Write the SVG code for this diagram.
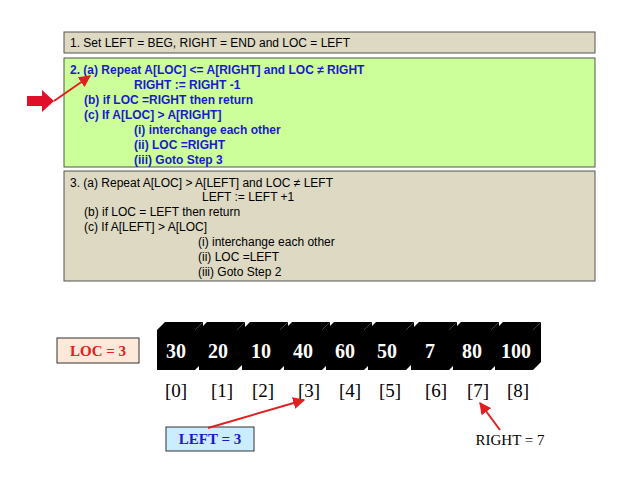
<svg xmlns="http://www.w3.org/2000/svg" width="638" height="478" viewBox="0 0 638 478">
<style>
.box{fill:#ddd9c3;stroke:#555;stroke-width:1}
.t{font-family:"Liberation Sans",Arial,sans-serif;font-size:12px;fill:#000}
.b{font-family:"Liberation Sans",Arial,sans-serif;font-size:12px;fill:#1a1acc;font-weight:bold}
.num{font-family:"Liberation Serif",serif;font-size:20px;font-weight:bold;fill:#fff;text-anchor:middle}
.idx{font-family:"Liberation Serif",serif;font-size:19px;fill:#000;text-anchor:middle}
.bl .f{fill:#1010b0}.bl .tp{fill:#2a2ae0}.bl .sd{fill:#0a0a80}
.rd .f{fill:#5a0a28}.rd .tp{fill:#7a1a3a}.rd .sd{fill:#3a0518}
</style>
<defs>
<marker id="ah" viewBox="0 0 10 10" refX="9" refY="5" markerWidth="6" markerHeight="6" orient="auto"><path d="M0,0L10,5L0,10z" fill="#e02020"/></marker>
<g id="cube"><polygon class="tp" points="0,8 8,0 46,0 38,8"/><polygon class="sd" points="38,8 46,0 46,40 38,48"/><rect class="f" x="0" y="8" width="38" height="40"/></g>
</defs>
<g id="step1"><rect class="box" x="64" y="32" width="531" height="21"/><text class="t" x="70" y="47">1. Set LEFT = BEG, RIGHT = END and LOC = LEFT</text></g>
<g id="step2"><rect x="64" y="58" width="531" height="109" fill="#ccff99" stroke="#555"/>
<text class="b" x="70" y="74">2. (a) Repeat A[LOC] &lt;= A[RIGHT] and LOC ≠ RIGHT</text>
<text class="b" x="134" y="89">RIGHT := RIGHT -1</text>
<text class="b" x="84" y="104">(b) if LOC =RIGHT then return</text>
<text class="b" x="84" y="119">(c) If A[LOC] &gt; A[RIGHT]</text>
<text class="b" x="134" y="134">(i) interchange each other</text>
<text class="b" x="134" y="149">(ii) LOC =RIGHT</text>
<text class="b" x="134" y="164">(iii) Goto Step 3</text></g>
<g id="step3"><rect class="box" x="64" y="171" width="531" height="110"/>
<text class="t" x="70" y="187">3. (a) Repeat A[LOC] &gt; A[LEFT] and LOC ≠ LEFT</text>
<text class="t" x="202" y="201">LEFT := LEFT +1</text>
<text class="t" x="84" y="216">(b) if LOC = LEFT then return</text>
<text class="t" x="84" y="231">(c) If A[LEFT] &gt; A[LOC]</text>
<text class="t" x="198" y="246">(i) interchange each other</text>
<text class="t" x="198" y="261">(ii) LOC =LEFT</text>
<text class="t" x="198" y="276">(iii) Goto Step 2</text></g>
<g id="pointer"><polygon points="27,96 42,96 42,90 54,101 42,112 42,106 27,106" fill="#e0102a"/></g>
<g id="loc"><rect x="57" y="338" width="82" height="25" fill="#fde9d9" stroke="#333"/><text x="98" y="356" font-family="Liberation Serif,serif" font-size="15" font-weight="bold" fill="#e02020" text-anchor="middle">LOC = 3</text></g>
<g id="array">
<g class="bl"><use href="#cube" x="157" y="322"/></g><text class="num" x="176" y="358">30</text>
<g class="bl"><use href="#cube" x="199" y="322"/></g><text class="num" x="218" y="358">20</text>
<g class="bl"><use href="#cube" x="242" y="322"/></g><text class="num" x="261" y="358">10</text>
<g class="rd"><use href="#cube" x="284" y="322"/></g><text class="num" x="303" y="358">40</text>
<g class="bl"><use href="#cube" x="326" y="322"/></g><text class="num" x="345" y="358">60</text>
<g class="bl"><use href="#cube" x="368" y="322"/></g><text class="num" x="387" y="358">50</text>
<g class="bl"><use href="#cube" x="411" y="322"/></g><text class="num" x="430" y="358">7</text>
<g class="rd"><use href="#cube" x="453" y="322"/></g><text class="num" x="472" y="358">80</text>
<g class="bl"><use href="#cube" x="495" y="322"/></g><text class="num" x="516" y="358">100</text>
</g>
<g id="indices">
<text class="idx" x="176" y="397">[0]</text><text class="idx" x="222" y="397">[1]</text><text class="idx" x="263" y="397">[2]</text><text class="idx" x="309" y="397">[3]</text><text class="idx" x="350" y="397">[4]</text><text class="idx" x="390" y="397">[5]</text><text class="idx" x="436" y="397">[6]</text><text class="idx" x="478" y="397">[7]</text><text class="idx" x="518" y="397">[8]</text></g>
<g id="left"><rect x="166" y="427" width="88" height="24" fill="#ccecff" stroke="#333"/><text x="210" y="444" font-family="Liberation Serif,serif" font-size="15" font-weight="bold" fill="#1a1acc" text-anchor="middle">LEFT = 3</text></g>
<g id="right"><text x="510" y="445" font-family="Liberation Serif,serif" font-size="15" fill="#000" text-anchor="middle">RIGHT = 7</text></g>
<g id="connectors" stroke="#e02020" stroke-width="2" fill="none">
<line x1="54" y1="101" x2="90" y2="76" marker-end="url(#ah)"/>
<line x1="208" y1="428" x2="304" y2="400" marker-end="url(#ah)"/>
<line x1="500" y1="430" x2="480" y2="403" marker-end="url(#ah)"/>
</g>
</svg>
